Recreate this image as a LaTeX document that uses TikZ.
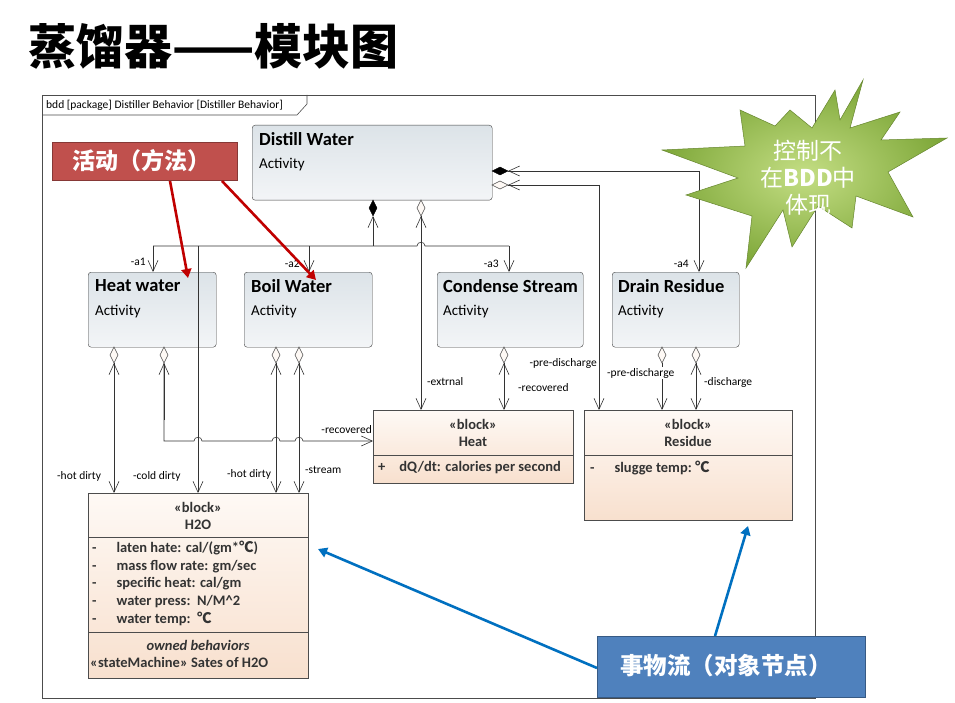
\documentclass[tikz,border=0pt]{standalone}
\usepackage{fontspec}
\setmainfont{Carlito}
\newfontfamily\cjk{Noto Sans CJK SC}
\usetikzlibrary{arrows.meta,calc}
\definecolor{actTop}{HTML}{DCE3E8}
\definecolor{actBot}{HTML}{F3F5F7}
\definecolor{blkTop}{HTML}{FEF9F5}
\definecolor{blkBot}{HTML}{F8E0CE}
\definecolor{redbox}{HTML}{C0504D}
\definecolor{bluebox}{HTML}{4F81BD}
\definecolor{redarr}{HTML}{C00000}
\definecolor{bluearr}{HTML}{0070C0}
\definecolor{starIn}{HTML}{C4DE84}
\definecolor{starOut}{HTML}{7FA83A}
\begin{document}
\begin{tikzpicture}[x=1pt,y=-1pt,
  act/.style={draw=black!75,rounded corners=3pt,top color=actTop,bottom color=actBot,anchor=north west,inner sep=0pt},
  blk/.style={draw=black!70,top color=blkTop,bottom color=blkBot,anchor=north west,inner sep=0pt},
  ttl/.style={anchor=north west,font=\fontsize{18.5}{20}\selectfont\bfseries,inner sep=0pt},
  sub/.style={anchor=north west,font=\fontsize{15}{17}\selectfont,inner sep=0pt},
  lbl/.style={font=\fontsize{11.5}{13}\selectfont,inner sep=1pt},
  btxt/.style={font=\fontsize{14.5}{17}\selectfont\bfseries,text=black!80,inner sep=0pt},
  con/.style={draw=black!80,line width=0.6pt},
  oa/.style={-{Straight Barb[length=11pt,width=10pt]}},
  wd/.style={draw=black!70,fill=blkTop,line width=0.5pt},
  bd/.style={draw=black,fill=black},
  callarr/.style={line width=2.6pt,-{Triangle[length=9pt,width=10pt]}}]
\useasboundingbox (0,0) rectangle (955,703);
\fill[white] (0,0) rectangle (955,703);
% title
\node[anchor=west,inner sep=0pt,font=\cjk\fontsize{48}{52}\selectfont\bfseries] (title) at (28,46) {蒸馏器——模块图};
% frame
\draw[black!70,line width=0.7pt] (42,95) rectangle (815,698);
\draw[black!70,line width=0.6pt] (42,115) -- (297,115) -- (307,104) -- (307,95);
\node[anchor=west,inner sep=0pt,font=\fontsize{11.5}{13}\selectfont] (frm) at (46,105) {bdd [package] Distiller Behavior [Distiller Behavior]};
% activity boxes
\node[act,minimum width=240,minimum height=75] (dw) at (252,125) {};
\node[ttl] (dwt) at (259,132) {Distill Water};
\node[sub] (dws) at (259,158) {Activity};
\node[act,minimum width=128,minimum height=75] (hw) at (88,272) {};
\node[ttl] (hwt) at (95,279) {Heat water};
\node[sub] (hws) at (95,305) {Activity};
\node[act,minimum width=128,minimum height=75] (bw) at (244,272) {};
\node[ttl] (bwt) at (251,279) {Boil Water};
\node[sub] (bws) at (251,305) {Activity};
\node[act,minimum width=146,minimum height=75] (cs) at (437,272) {};
\node[ttl] (cst) at (443,279) {Condense Stream};
\node[sub] (css) at (443,305) {Activity};
\node[act,minimum width=127,minimum height=75] (dr) at (612,272) {};
\node[ttl] (drt) at (618,279) {Drain Residue};
\node[sub] (drs) at (618,305) {Activity};
% blocks
\node[blk,minimum width=200,minimum height=73] (heat) at (373,410) {};
\draw[black!70] (373,455) -- (573,455);
\node[btxt,align=center] (heatt) at (473,433) {«block»\\Heat};
\node[btxt,anchor=west] (heata) at (378,468) {+\hspace{14pt}dQ/dt: calories per second};
\node[blk,minimum width=208,minimum height=110] (res) at (584,410) {};
\draw[black!70] (584,455) -- (792,455);
\node[btxt,align=center] (rest) at (688,433) {«block»\\Residue};
\node[btxt,anchor=west] (resa) at (590,468) {-\hspace{20pt}slugge temp:\ {\cjk ℃}};
\node[blk,minimum width=220,minimum height=185] (h2o) at (88,493) {};
\draw[black!70] (88,537) -- (308,537);
\draw[black!70] (88,632) -- (308,632);
\node[btxt,align=center] (h2ot) at (198,516) {«block»\\H2O};
\node[btxt,anchor=north west,align=left,font=\fontsize{14.5}{17.6}\selectfont\bfseries] (h2oa) at (92,541)
 {-\hspace{20pt}laten hate: cal/(gm*{\cjk ℃})\\-\hspace{20pt}mass flow rate: gm/sec\\-\hspace{20pt}specific heat: cal/gm\\-\hspace{20pt}water press:\ \ N/M\^{}2\\-\hspace{20pt}water temp:\ \ {\cjk ℃}};
\node[btxt,align=center] (h2ob) at (198,645) {\itshape owned behaviors};
\node[btxt,anchor=west] (h2oc) at (90,662) {«stateMachine» Sates of H2O};
% composition bus from Distill Water
\coordinate (bus) at (373,246);
\path[bd] (373,200) -- (377,208) -- (373,216) -- (369,208) -- cycle;
\draw[con,oa] (bus) -- (373,216);
\draw[con] (153,246) -- (417,246) .. controls (417,241) and (425,241) .. (425,246) -- (509,246);
\draw[con,oa] (153,246) -- (153,272);
\draw[con,oa] (309,246) -- (309,272);
\draw[con,oa] (509,246) -- (509,272);
\draw[con,oa] (198,246) -- (198,493);
\node[lbl,anchor=east] (la1) at (147,262) {-a1};
\node[lbl,anchor=east] (la2) at (301,264) {-a2};
\node[lbl,anchor=east] (la3) at (500,264) {-a3};
\node[lbl,anchor=east] (la4) at (690,264) {-a4};
\node[lbl,anchor=west] (lcd) at (132,476) {-cold dirty};
% extrnal
\path[wd] (421,200) -- (425,208) -- (421,216) -- (417,208) -- cycle;
\draw[con,oa] (421,216) -- (421,410);
\draw[con,oa] (421,300) -- (421,216);
\node[lbl,anchor=west] (lex) at (426,382) {-extrnal};
% right side from Distill Water
\path[bd] (492,171) -- (500,167) -- (508,171) -- (500,175) -- cycle;
\draw[con] (508,171) -- (699,171);
\draw[con,oa] (699,171) -- (699,272);
\draw[con,oa] (560,171) -- (508,171);
\path[wd] (492,185) -- (500,181) -- (508,185) -- (500,189) -- cycle;
\draw[con] (508,185) -- (599,185);
\draw[con,oa] (599,185) -- (599,410);
\draw[con,oa] (560,185) -- (508,185);
\node[lbl,anchor=east,fill=white] (lpd1) at (598,363) {-pre-discharge};
% condense -> heat
\path[wd] (504,347) -- (508,355) -- (504,363) -- (500,355) -- cycle;
\draw[con,oa] (504,363) -- (504,410);
\draw[con,oa] (504,400) -- (504,363);
\node[lbl,anchor=west] (lrc1) at (517,388) {-recovered};
% drain residue -> residue
\path[wd] (662,347) -- (666,355) -- (662,363) -- (658,355) -- cycle;
\draw[con,oa] (662,363) -- (662,410);
\path[wd] (696,347) -- (700,355) -- (696,363) -- (692,355) -- cycle;
\draw[con,oa] (696,363) -- (696,410);
\draw[con,oa] (696,400) -- (696,363);
\node[lbl,anchor=west,fill=white] (lpd2) at (606,373) {-pre-discharge};
\node[lbl,anchor=west] (ldc) at (703,382) {-discharge};
% heat water -> H2O
\path[wd] (114,347) -- (118,355) -- (114,363) -- (110,355) -- cycle;
\draw[con,oa] (114,363) -- (114,493);
\draw[con,oa] (114,480) -- (114,363);
\node[lbl,anchor=west] (lhd1) at (56,476) {-hot dirty};
\path[wd] (164,347) -- (168,355) -- (164,363) -- (160,355) -- cycle;
\draw[con,oa] (164,420) -- (164,363);
\draw[con,oa] (164,363) -- (164,441) -- (194,441) .. controls (194,436) and (202,436) .. (202,441)
  -- (272,441) .. controls (272,436) and (280,436) .. (280,441)
  -- (295,441) .. controls (295,436) and (303,436) .. (303,441) -- (373,441);
\node[lbl,anchor=east] (lrc2) at (373,430) {-recovered};
% boil water -> H2O
\path[wd] (276,347) -- (280,355) -- (276,363) -- (272,355) -- cycle;
\draw[con,oa] (276,363) -- (276,493);
\draw[con,oa] (276,480) -- (276,363);
\path[wd] (299,347) -- (303,355) -- (299,363) -- (295,355) -- cycle;
\draw[con,oa] (299,363) -- (299,493);
\draw[con,oa] (299,480) -- (299,363);
\node[lbl,anchor=west,fill=white] (lhd2) at (226,474) {-hot dirty};
\node[lbl,anchor=west] (lst) at (304,470) {-stream};
% red callout
\node[draw=redbox!70!black,line width=1.2pt,fill=redbox,anchor=north west,minimum width=185,minimum height=38,inner sep=0pt] (red) at (52,142) {};
\node[text=white,font=\cjk\fontsize{23}{26}\selectfont\bfseries] (redt) at (141,161) {活动（方法）};
\coordinate (r1) at (188,278);
\coordinate (r2) at (316,280);
\draw[redarr,line width=2.6pt,-{Triangle[length=9pt,width=10pt]}] (170,181) -- (r1);
\draw[redarr,line width=2.6pt,-{Triangle[length=9pt,width=10pt]}] (222,181) -- (r2);
% blue callout
\node[draw=bluebox!70!black,line width=1.2pt,fill=bluebox,anchor=north west,minimum width=268,minimum height=61,inner sep=0pt] (blue) at (597,636) {};
\node[text=white,font=\cjk\fontsize{23.5}{26}\selectfont\bfseries] (bluet) at (726,666) {事物流（对象节点）};
\draw[bluearr,callarr] (597,668) -- (318,549);
\draw[bluearr,callarr] (715,636) -- (748,526);
% starburst
\shade[inner color=starIn,outer color=starOut,draw=starOut!80!black,line width=0.5pt]
 (863,80) -- (850,128) -- (900,112) -- (881,140) -- (947,138) -- (888,172) -- (913,217) -- (856,196) -- (852,228)
 -- (818,206) -- (792,247) -- (783,210) -- (746,268) -- (752,216) -- (686,195) -- (738,178) -- (662,150)
 -- (745,146) -- (740,110) -- (775,126) -- (790,110) -- (812,128) -- (835,90) -- (840,120) -- cycle;
\node[text=white,font=\cjk\fontsize{23}{27}\selectfont,align=center] (star) at (808,178) {控制不\\在\textbf{BDD}中\\体现};
\end{tikzpicture}
\end{document}
